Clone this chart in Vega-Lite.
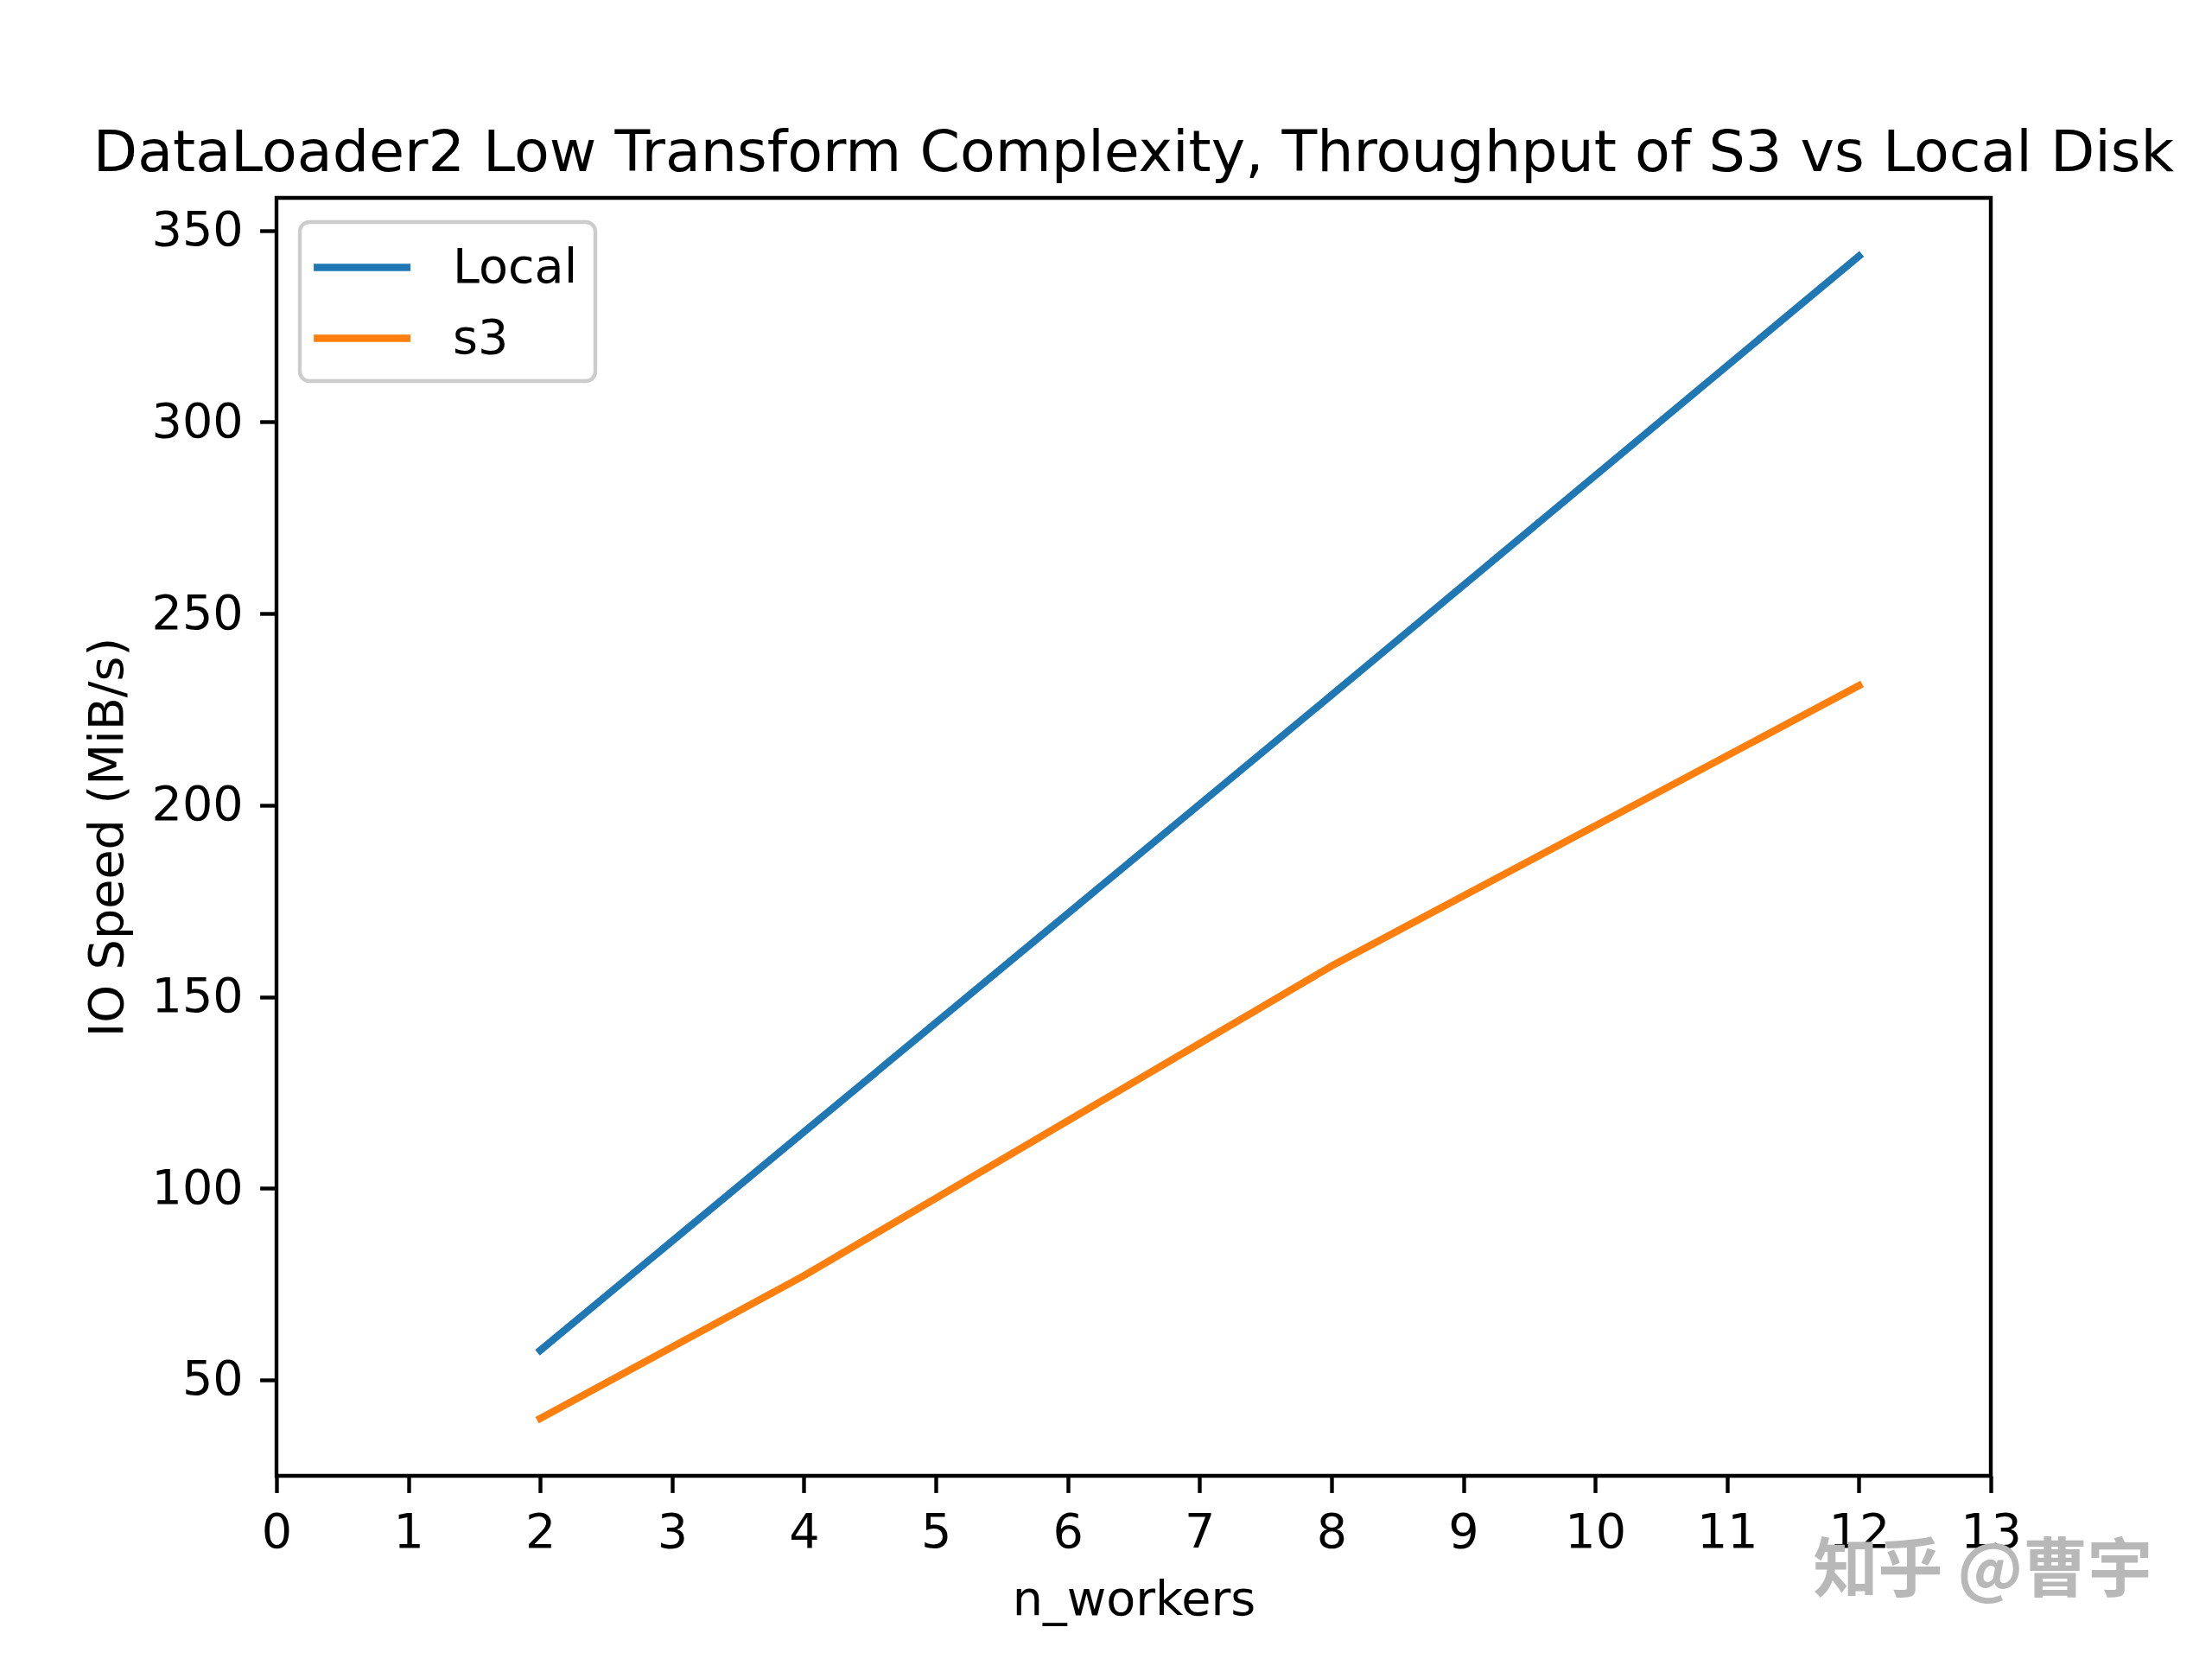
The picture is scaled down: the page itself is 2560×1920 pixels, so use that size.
{
  "$schema": "https://vega.github.io/schema/vega-lite/v6.json",
  "width": 1984,
  "height": 1479,
  "autosize": {"type": "none"},
  "padding": {"left": 320, "top": 229, "right": 256, "bottom": 212},
  "background": "white",
  "config": {
    "font": "DejaVu Sans",
    "view": {"stroke": "black", "strokeWidth": 4.4},
    "axis": {
      "grid": false,
      "domain": false,
      "tickColor": "black",
      "tickWidth": 4.4,
      "tickSize": 19.4,
      "labelColor": "black",
      "labelFont": "DejaVu Sans",
      "labelFontSize": 55.6,
      "labelPadding": 19.4,
      "labelFlush": false,
      "labelOverlap": false,
      "titleFont": "DejaVu Sans",
      "titleFontSize": 55.6,
      "titleFontWeight": "normal",
      "titleColor": "black",
      "titlePadding": 22
    }
  },
  "title": {
    "text": "DataLoader2 Low Transform Complexity, Throughput of S3 vs Local Disk",
    "font": "DejaVu Sans",
    "fontSize": 66.7,
    "fontWeight": "normal",
    "color": "black",
    "anchor": "middle",
    "offset": -50,
    "baseline": "bottom"
  },
  "layer": [
    {
      "data": {
        "values": [
          {"series": "Local", "n_workers": 2, "speed": 57.7},
          {"series": "Local", "n_workers": 4, "speed": 114.7},
          {"series": "Local", "n_workers": 8, "speed": 228.7},
          {"series": "Local", "n_workers": 12, "speed": 343.3},
          {"series": "s3", "n_workers": 2, "speed": 39.9},
          {"series": "s3", "n_workers": 4, "speed": 77.2},
          {"series": "s3", "n_workers": 8, "speed": 158.0},
          {"series": "s3", "n_workers": 12, "speed": 231.2}
        ]
      },
      "mark": {"type": "line", "strokeWidth": 8.33, "strokeCap": "square", "strokeJoin": "round"},
      "encoding": {
        "x": {
          "field": "n_workers",
          "type": "quantitative",
          "scale": {"domain": [0, 13], "nice": false, "zero": false},
          "axis": {"values": [0,1,2,3,4,5,6,7,8,9,10,11,12,13], "format": "d", "title": "n_workers"}
        },
        "y": {
          "field": "speed",
          "type": "quantitative",
          "scale": {"domain": [24.95, 358.5], "nice": false, "zero": false},
          "axis": {"values": [50,100,150,200,250,300,350], "format": "d", "title": "IO Speed (MiB/s)"}
        },
        "color": {
          "field": "series",
          "type": "nominal",
          "scale": {"domain": ["Local", "s3"], "range": ["#1f77b4", "#ff7f0e"]},
          "legend": {
            "orient": "none",
            "legendX": 27,
            "legendY": 28,
            "title": null,
            "symbolType": "M-1.3,0H2.7",
            "symbolSize": 3136,
            "symbolStrokeWidth": 8.33,
            "labelFont": "DejaVu Sans",
            "labelFontSize": 55.6,
            "labelColor": "black",
            "labelOffset": 92,
            "labelLimit": 1000,
            "rowPadding": 20,
            "padding": 20,
            "fillColor": "white",
            "strokeColor": "#cccccc",
            "cornerRadius": 11,
            "encode": {"legend": {"update": {"strokeWidth": {"value": 4.4}}}}
          }
        }
      }
    },
    {
      "data": {"values": [{}]},
      "mark": {"type": "text", "font": "Noto Sans CJK SC", "fontSize": 75, "fontWeight": "bold", "color": "#b8b8b8", "align": "center", "baseline": "middle"},
      "encoding": {
        "x": {"datum": 12.94, "type": "quantitative"},
        "y": {"datum": 0, "type": "quantitative"},
        "text": {"value": "知乎 @曹宇"}
      }
    }
  ]
}
